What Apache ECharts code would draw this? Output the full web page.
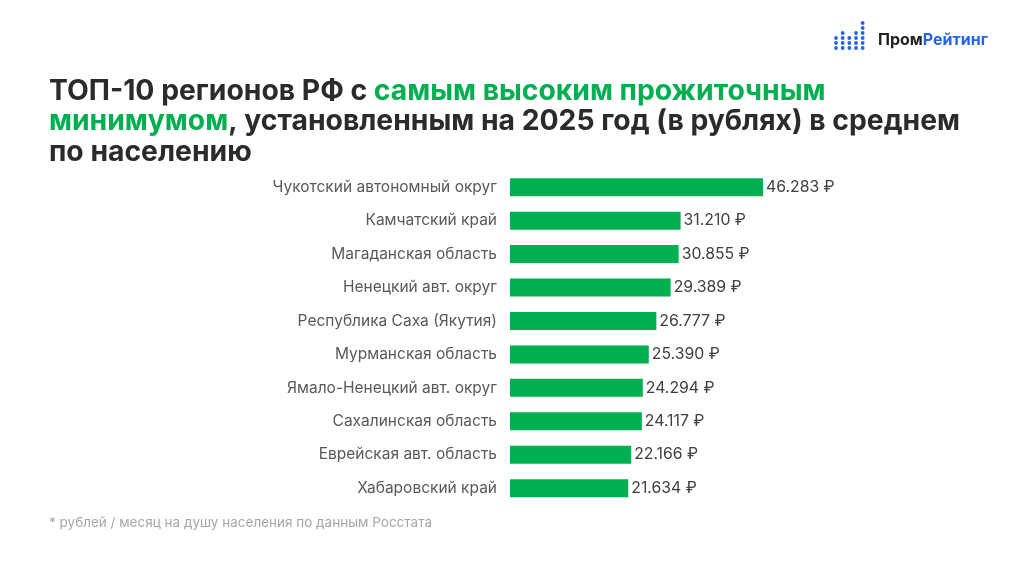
<!DOCTYPE html>
<html>
<head>
<meta charset="utf-8">
<style>
  html, body { margin: 0; padding: 0; background: #fff; }
  #chart { width: 1030px; height: 579px; }
</style>
<script src="https://cdn.jsdelivr.net/npm/echarts@6/dist/echarts.min.js"></script>
</head>
<body>
<div id="chart"></div>
<script>
const regions = [
  'Чукотский автономный округ',
  'Камчатский край',
  'Магаданская область',
  'Ненецкий авт. округ',
  'Республика Саха (Якутия)',
  'Мурманская область',
  'Ямало-Ненецкий авт. округ',
  'Сахалинская область',
  'Еврейская авт. область',
  'Хабаровский край'
]
const minimums = [46283, 31210, 30855, 29389, 26777, 25390, 24294, 24117, 22166, 21634]

const fontName = 'Inter, "Noto Sans", sans-serif'
const green = '#00b050'
const dark = '#2b2b2b'

// logo dots, heights of the columns
const logoColumns = [3, 4, 3, 4, 6]
const logoDots = []
logoColumns.forEach((count, col) => {
  for (let row = 0; row < count; row++) {
    logoDots.push({
      type: 'circle',
      shape: { cx: 836 + col * 6.67, cy: 48 - row * 5, r: 1.9 },
      style: { fill: '#2563eb' }
    })
  }
})

const myChart = echarts.init(document.getElementById('chart'))
const option = {
  backgroundColor: '#ffffff',
  animation: false,
  title: {
    left: 49,
    top: 76,
    padding: 0,
    text: '{d|ТОП-10 регионов РФ с }{g|самым высоким прожиточным}\n' +
      '{g|минимумом}{d|, установленным на 2025 год (в рублях) в среднем}\n' +
      '{d|по населению}',
    textStyle: {
      rich: {
        d: { fontFamily: fontName, fontSize: 28.3, fontWeight: 700, color: dark, lineHeight: 30.5 },
        g: { fontFamily: fontName, fontSize: 28.3, fontWeight: 700, color: green, lineHeight: 30.5 }
      }
    }
  },
  grid: { left: 510, top: 170.5, width: 273.3, height: 334.4 },
  xAxis: { type: 'value', min: 0, max: 50000, show: false },
  yAxis: {
    type: 'category',
    inverse: true,
    data: regions,
    axisLine: { show: false },
    axisTick: { show: false },
    axisLabel: { margin: 13, padding: [2, 0, 0, 0], fontFamily: fontName, fontSize: 15.5, color: '#595959' }
  },
  series: [
    {
      type: 'bar',
      data: minimums,
      barWidth: 18,
      itemStyle: { color: green },
      label: {
        show: true,
        position: 'right',
        distance: 3,
        padding: [2, 0, 0, 0],
        fontFamily: fontName,
        fontSize: 15.8,
        color: '#404040',
        formatter: p => String(p.value).replace(/(\d{3})$/, '.$1') + ' ₽'
      }
    }
  ],
  graphic: [
    ...logoDots,
    {
      type: 'text',
      left: 878,
      top: 32,
      style: {
        text: '{a|Пром}{b|Рейтинг}',
        rich: {
          a: { fontFamily: fontName, fontSize: 16, fontWeight: 700, fill: '#222222' },
          b: { fontFamily: fontName, fontSize: 16, fontWeight: 700, fill: '#2563eb' }
        }
      }
    },
    {
      type: 'text',
      left: 49,
      top: 516,
      style: {
        text: '* рублей / месяц на душу населения по данным Росстата',
        fontFamily: fontName,
        fontSize: 13.5,
        fill: '#a6a6a6'
      }
    }
  ]
}
myChart.setOption(option)
</script>
</body>
</html>
